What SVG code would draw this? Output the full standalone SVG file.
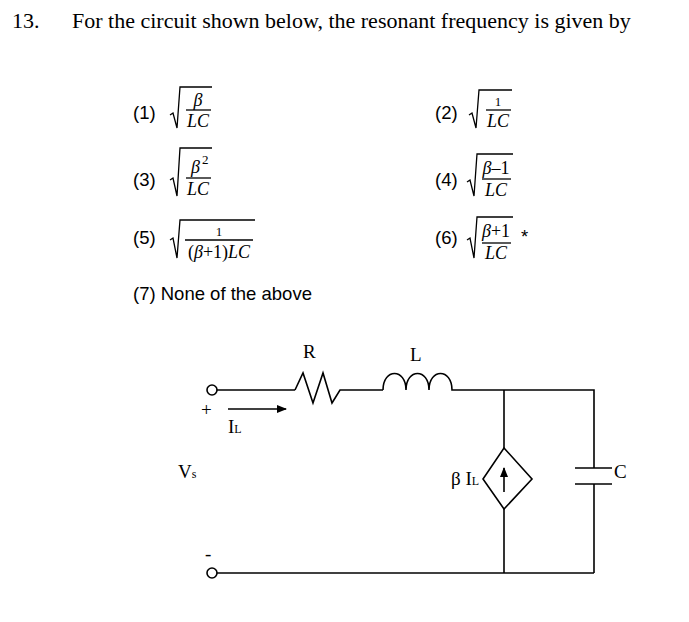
<svg xmlns="http://www.w3.org/2000/svg" width="689" height="622" viewBox="0 0 689 622">
<style>
.t{font-family:"Liberation Serif",serif;font-size:22px;fill:#000}
.s{font-family:"Liberation Sans",sans-serif;font-size:18.5px;fill:#000}
.m{font-family:"Liberation Serif",serif;font-style:italic;font-size:18px;fill:#000}
.n{font-family:"Liberation Serif",serif;font-size:18px;fill:#000}
.sm{font-family:"Liberation Serif",serif;font-size:13px;fill:#000}
.c{font-family:"Liberation Serif",serif;font-size:19px;fill:#000}
.ln{fill:none;stroke:#000;stroke-width:1.3}
.w{fill:none;stroke:#000;stroke-width:1.6}
</style>
<defs><marker id="ah" markerWidth="10" markerHeight="8" refX="9" refY="4" orient="auto" markerUnits="userSpaceOnUse"><path d="M0,0L10,4L0,8z" fill="#000"/></marker></defs>
<rect width="689" height="622" fill="#fff"/>
<g id="question">
<text x="12" y="28" class="t">13.</text>
<text x="72" y="28" class="t">For the circuit shown below, the resonant frequency is given by</text>
</g>
<g id="opt1"><text x="133" y="119" class="s">(1)</text>
<polyline class="ln" points="170,115 173,113 177,128 180,87 212,87"/>
<line class="ln" x1="186" y1="110" x2="211" y2="110"/>
<text x="198" y="106" class="m" text-anchor="middle">β</text><text x="198" y="127" class="m" text-anchor="middle">LC</text></g>
<g id="opt2"><text x="435" y="119" class="s">(2)</text>
<polyline class="ln" points="469,115 472,113 476,128 479,90 512,90"/>
<line class="ln" x1="486" y1="110" x2="511" y2="110"/>
<text x="498" y="106" class="sm" text-anchor="middle">1</text><text x="498" y="127" class="m" text-anchor="middle">LC</text></g>
<g id="opt3"><text x="133" y="186" class="s">(3)</text>
<polyline class="ln" points="170,180 173,178 177,196 180,148 212,148"/>
<line class="ln" x1="186" y1="178" x2="211" y2="178"/>
<text x="191" y="173" class="m">β</text><text x="202" y="164" class="sm">2</text><text x="198" y="195" class="m" text-anchor="middle">LC</text></g>
<g id="opt4"><text x="435" y="186" class="s">(4)</text>
<polyline class="ln" points="467,182 470,180 474,196 477,154 513,154"/>
<line class="ln" x1="482" y1="179" x2="511" y2="179"/>
<text x="496" y="174" class="m" text-anchor="middle">β<tspan font-style="normal">–1</tspan></text><text x="496" y="196" class="m" text-anchor="middle">LC</text></g>
<g id="opt5"><text x="133" y="244" class="s">(5)</text>
<polyline class="ln" points="170,240 173,238 177,258 180,220 255,220"/>
<line class="ln" x1="185" y1="240" x2="253" y2="240"/>
<text x="219" y="236" class="sm" text-anchor="middle">1</text><text x="219" y="258" class="n" text-anchor="middle">(<tspan font-style="italic">β</tspan>+1)<tspan font-style="italic">LC</tspan></text></g>
<g id="opt6"><text x="435" y="244" class="s">(6)</text>
<polyline class="ln" points="467,240 470,238 474,258 477,217 513,217"/>
<line class="ln" x1="482" y1="243" x2="511" y2="243"/>
<text x="496" y="237" class="m" text-anchor="middle">β<tspan font-style="normal">+1</tspan></text><text x="496" y="259" class="m" text-anchor="middle">LC</text>
<text x="521" y="243" class="s" font-size="14">*</text></g>
<g id="opt7"><text x="133" y="300" class="s">(7) None of the above</text></g>
<g id="connectors">
<line class="w" x1="217" y1="390" x2="295" y2="390"/>
<polyline class="w" points="295,390 303,373 313,403 323,373 332,403 340,390 383,390"/>
<path class="w" d="M383,390 C383,368 406,368 406,390 C406,368 429,368 429,390 C429,368 452,368 452,390 L594,390 L594,468"/>
<line class="w" x1="504" y1="390" x2="504" y2="448"/>
<line class="w" x1="504" y1="509" x2="504" y2="573"/>
<line class="w" x1="594" y1="484" x2="594" y2="573"/>
<line class="w" x1="217" y1="573" x2="594" y2="573"/>
<line class="w" x1="228" y1="409" x2="286" y2="409" marker-end="url(#ah)"/>
</g>
<g id="terminal_top"><circle cx="212" cy="390" r="5" class="w" fill="#fff"/></g>
<g id="terminal_bot"><circle cx="212" cy="573" r="5" class="w" fill="#fff"/></g>
<g id="source"><polygon class="w" points="504,448 532,479 504,509 483,479"/>
<line class="w" x1="504" y1="492" x2="504" y2="468" marker-end="url(#ah)"/></g>
<g id="capacitor"><line class="w" x1="575" y1="468" x2="612" y2="468"/><line class="w" x1="575" y1="484" x2="612" y2="484"/></g>
<g id="labels">
<text x="303" y="358" class="c">R</text>
<text x="410" y="361" class="c">L</text>
<text x="201" y="416" class="c">+</text>
<text x="228" y="433" class="c">I<tspan font-size="12">L</tspan></text>
<text x="178" y="478" class="c">V<tspan font-size="12">s</tspan></text>
<text x="451" y="485" class="c">β I<tspan font-size="12">L</tspan></text>
<text x="614" y="478" class="c">C</text>
<text x="205" y="560" class="c">-</text>
</g>
</svg>
